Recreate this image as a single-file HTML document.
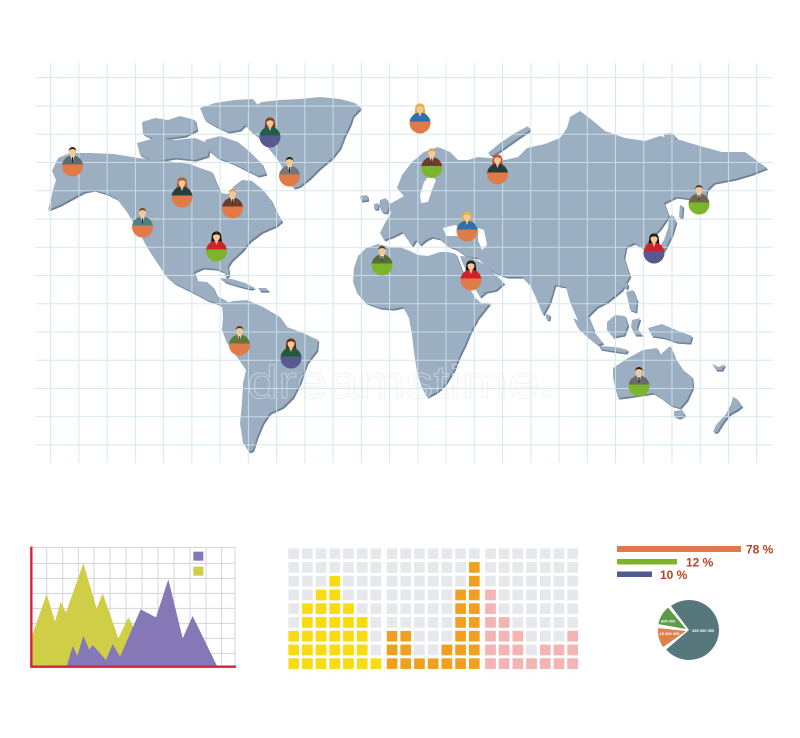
<!DOCTYPE html>
<html><head><meta charset="utf-8"><style>
html,body{margin:0;padding:0;background:#fff;width:800px;height:738px;overflow:hidden}
svg{display:block}
</style></head><body>
<svg width="800" height="738" viewBox="0 0 800 738" xmlns="http://www.w3.org/2000/svg">
<defs>
<clipPath id="ic"><circle cx="0" cy="0" r="10.5"/></clipPath>
<g id="land">
<path d="M48,210 L60,205 73,198 84,192 94,190 107,194 117,199 127,212 134,224 142,238 150,252 158,264 166,276 174,283 184,288 196,294 207,300 216,303 222,306 228,308 232,305 225,300 217,296 213,287 207,282 197,281 194,272 203,268 216,269 224,272 226,278 229,275 228,266 232,260 242,251 250,241 262,232 276,226 282,221 277,213 271,200 262,189 252,181 242,180 234,186 228,194 221,193 216,182 212,172 200,168 190,164 175,162 158,160 138,158 114,154 90,153 70,153 58,158 52,171 56,180 53,190 50,203Z"/>
<path d="M200,108 L215,103 235,100 253,99 258,106 256,116 248,122 240,130 228,132 215,126 205,120Z"/>
<path d="M205,140 L220,136 238,142 250,152 262,164 266,174 258,176 246,170 232,163 218,158 208,150Z"/>
<path d="M142,122 L155,118 168,120 180,116 195,120 197,130 185,136 170,138 155,140 143,134Z"/>
<path d="M137,143 L155,138 175,140 195,138 210,144 208,156 195,160 175,158 155,161 140,155Z"/>
<path d="M243,118 L250,108 262,102 280,100 300,99 320,97 340,99 355,103 361,108 353,116 350,125 345,135 340,148 332,158 320,168 310,178 300,186 294,188 288,182 284,170 278,160 270,150 262,140 252,132 245,125Z"/>
<path d="M220,278 L232,279 245,283 255,288 250,289 238,286 225,282Z"/>
<path d="M258,288 L266,288 269,291 260,291Z"/>
<path d="M222,305 L233,301 247,300 263,307 280,317 287,327 303,333 318,340 317,350 307,363 300,383 293,397 283,407 270,413 263,423 257,437 253,450 249,452 243,443 240,423 242,403 243,383 246,370 237,357 227,343 222,330 223,317Z"/>
<path d="M397,188 L402,175 412,162 424,152 438,147 450,152 458,160 468,160 478,157 490,158 505,160 518,157 527,148 545,144 560,138 567,128 570,117 580,111 592,120 605,131 625,138 645,141 660,136 680,140 700,146 722,152 745,152 767,168 752,174 735,179 714,183 707,190 704,212 698,206 692,199 676,197 664,203 669,216 660,229 652,237 643,248 634,243 626,247 624,258 630,276 622,290 607,302 597,307 588,316 594,330 589,337 582,330 576,316 570,302 566,287 555,285 550,302 543,315 536,298 530,285 522,277 507,277 498,274 487,268 478,258 466,256 456,249 448,246 440,239 432,237 426,240 420,245 416,240 412,246 408,240 402,232 394,236 384,240 380,233 385,223 391,213 388,205 397,200 404,196Z"/>
<path d="M378,244 L366,248 358,256 354,268 353,282 357,293 366,303 380,308 393,309 403,307 409,318 412,335 414,352 417,372 422,388 427,397 437,392 446,383 454,370 460,355 465,345 470,333 478,318 490,303 481,303 474,297 469,288 464,275 459,262 456,254 448,252 440,252 428,256 418,255 410,251 400,247 390,247Z"/>
<path d="M460,256 L470,257 480,262 488,268 497,276 504,283 496,290 486,292 480,297 474,287 468,274 462,262Z"/>
<path d="M380,200 L386,198 389,205 387,213 382,212 379,206Z"/>
<path d="M374,204 L378,203 378,209 374,209Z"/>
<path d="M360,196 L367,195 368,200 361,201Z"/>
<path d="M488,153 L500,143 515,133 528,126 530,130 518,138 504,148 492,156Z"/>
<path d="M663,134 L672,133 677,138 668,142Z"/>
<path d="M672,214 L676,222 672,235 666,247 660,256 655,258 657,250 664,240 668,228 669,218Z"/>
<path d="M680,205 L683,206 682,218 679,217Z"/>
<path d="M573,318 L583,323 595,333 603,343 598,345 588,337 578,328Z"/>
<path d="M600,346 L615,347 628,350 626,353 612,351 600,349Z"/>
<path d="M607,322 L615,315 625,316 628,325 624,335 613,337 607,330Z"/>
<path d="M632,320 L640,318 637,328 642,335 635,335 631,327Z"/>
<path d="M626,292 L633,290 637,300 636,312 630,310 628,300Z"/>
<path d="M625,282 L628,284 627,289 624,287Z"/>
<path d="M546,314 L550,315 549,320 546,319Z"/>
<path d="M648,328 L662,324 676,330 692,336 690,343 676,342 665,338 652,336Z"/>
<path d="M613,368 L628,358 643,350 657,348 660,355 670,346 675,358 683,370 692,377 693,387 687,400 680,408 670,405 660,397 653,393 640,395 627,397 618,398 615,387 613,377Z"/>
<path d="M674,411 L682,410 685,415 679,418 674,416Z"/>
<path d="M713,432 L716,425 726,414 731,404 733,397 737,399 742,406 737,410 731,413 724,421 717,432Z"/>
<path d="M712,364 L719,367 725,364 722,370 716,370Z"/>
</g>
<pattern id="g1" x="288.3" y="548.3" width="13.7" height="13.75" patternUnits="userSpaceOnUse"><rect width="10.7" height="10.7" fill="#e6e8ec"/></pattern>
<pattern id="g2" x="386.7" y="548.3" width="13.7" height="13.75" patternUnits="userSpaceOnUse"><rect width="10.7" height="10.7" fill="#e6e8ec"/></pattern>
<pattern id="g3" x="485.1" y="548.3" width="13.7" height="13.75" patternUnits="userSpaceOnUse"><rect width="10.7" height="10.7" fill="#e6e8ec"/></pattern>
<pattern id="py" x="288.3" y="548.3" width="13.7" height="13.75" patternUnits="userSpaceOnUse"><rect width="10.7" height="10.7" fill="#f8dc10"/></pattern>
<pattern id="po" x="386.7" y="548.3" width="13.7" height="13.75" patternUnits="userSpaceOnUse"><rect width="10.7" height="10.7" fill="#f0a020"/></pattern>
<pattern id="pp" x="485.1" y="548.3" width="13.7" height="13.75" patternUnits="userSpaceOnUse"><rect width="10.7" height="10.7" fill="#f4b4b4"/></pattern>
</defs>

<!-- map -->
<use href="#land" fill="#6f8296" transform="translate(1.3,1.6)"/>
<use href="#land" fill="#9cafc2"/>
<g fill="#fff">
<path d="M420,195 L424,182 430,175 436,180 432,190 428,202 421,203Z"/>
<path d="M443,228 L455,225 463,229 458,236 446,236Z"/>
<path d="M478,228 L484,230 487,245 482,250 478,240Z"/>
</g>

<text x="247" y="398" font-family="Liberation Sans, sans-serif" font-size="46" textLength="292" lengthAdjust="spacingAndGlyphs" fill="none" stroke="#e4e8ec" stroke-width="0.9" opacity="0.55">dreamstime</text>
<circle cx="547" cy="394" r="3.5" fill="none" stroke="#e4e8ec" stroke-width="0.9" opacity="0.55"/>

<g stroke="#cfe6ea" stroke-width="1" opacity="0.85" fill="none">
<path d="M50.7 63V463M78.94 63V463M107.18 63V463M135.42 63V463M163.66 63V463M191.9 63V463M220.14 63V463M248.38 63V463M276.62 63V463M304.86 63V463M333.1 63V463M361.34 63V463M389.58 63V463M417.82 63V463M446.06 63V463M474.3 63V463M502.54 63V463M530.78 63V463M559.02 63V463M587.26 63V463M615.5 63V463M643.74 63V463M671.98 63V463M700.22 63V463M728.46 63V463M756.7 63V463"/>
<path d="M36 77.7H773M36 105.95H773M36 134.2H773M36 162.45H773M36 190.7H773M36 218.95H773M36 247.2H773M36 275.45H773M36 303.7H773M36 331.95H773M36 360.2H773M36 388.45H773M36 416.7H773M36 444.95H773"/>
</g>

<!-- people icons -->
<g transform="translate(72.5,166)"><g clip-path="url(#ic)"><rect x="-11" y="-10.5" width="22" height="9" fill="#5f6b6e"/><rect x="-11" y="-1.5" width="22" height="13" fill="#e07b48"/></g><path d="M-2.2 -10.5L2.2 -10.5 0 -4Z" fill="#fff"/><path d="M-0.7 -9L0.7 -9 0.5 -4 0 -3 -0.5 -4Z" fill="#222"/><rect x="-1.6" y="-11.5" width="3.2" height="2" fill="#e8b584"/><ellipse cx="0" cy="-14.5" rx="3.6" ry="4.6" fill="#f5c996"/><path d="M-3.8 -14.5C-4.2 -20.5 4.2 -20.5 3.8 -14.5L3.2 -16C1 -17.2 -1 -17.2 -3.2 -16Z" fill="#2a2a2a"/></g>

<g transform="translate(182,197)"><path d="M-4.8 -14C-5 -21.5 5 -21.5 4.8 -14L5.4 -9L-5.4 -9Z" fill="#b5562a"/><g clip-path="url(#ic)"><rect x="-11" y="-10.5" width="22" height="9" fill="#24403c"/><rect x="-11" y="-1.5" width="22" height="13" fill="#e07b48"/></g><path d="M-1.8 -10.5L1.8 -10.5 0 -6Z" fill="#f5c996"/><rect x="-1.5" y="-11.5" width="3" height="2" fill="#e8b584"/><ellipse cx="0" cy="-14.5" rx="3.5" ry="4.5" fill="#f5c996"/><path d="M-3.7 -15C-3.5 -20 3.5 -20 3.7 -15C2 -17 -1 -17.5 -3.7 -15Z" fill="#b5562a"/></g>

<g transform="translate(232.5,208)"><g clip-path="url(#ic)"><rect x="-11" y="-10.5" width="22" height="9" fill="#6b3d2a"/><rect x="-11" y="-1.5" width="22" height="13" fill="#e07b48"/></g><path d="M-2.2 -10.5L2.2 -10.5 0 -4Z" fill="#fff"/><path d="M-0.7 -9L0.7 -9 0.5 -4 0 -3 -0.5 -4Z" fill="#333"/><rect x="-1.6" y="-11.5" width="3.2" height="2" fill="#e8b584"/><ellipse cx="0" cy="-14.5" rx="3.6" ry="4.6" fill="#f5c996"/><path d="M-3.8 -14.5C-4.2 -20.5 4.2 -20.5 3.8 -14.5L3.2 -16C1 -17.2 -1 -17.2 -3.2 -16Z" fill="#d4a04a"/></g>

<g transform="translate(142.5,227)"><g clip-path="url(#ic)"><rect x="-11" y="-10.5" width="22" height="9" fill="#4f7f80"/><rect x="-11" y="-1.5" width="22" height="13" fill="#e07b48"/></g><path d="M-2.2 -10.5L2.2 -10.5 0 -4Z" fill="#fff"/><path d="M-0.7 -9L0.7 -9 0.5 -4 0 -3 -0.5 -4Z" fill="#333"/><rect x="-1.6" y="-11.5" width="3.2" height="2" fill="#e8b584"/><ellipse cx="0" cy="-14.5" rx="3.6" ry="4.6" fill="#f5c996"/><path d="M-3.8 -14.5C-4.2 -20.5 4.2 -20.5 3.8 -14.5L3.2 -16C1 -17.2 -1 -17.2 -3.2 -16Z" fill="#6b4a2a"/></g>

<g transform="translate(216.5,251)"><path d="M-4.8 -14C-5 -21.5 5 -21.5 4.8 -14L5.4 -9L-5.4 -9Z" fill="#151515"/><g clip-path="url(#ic)"><rect x="-11" y="-10.5" width="22" height="9" fill="#d0202a"/><rect x="-11" y="-1.5" width="22" height="13" fill="#7cb52b"/></g><path d="M-1.8 -10.5L1.8 -10.5 0 -6Z" fill="#f5c996"/><rect x="-1.5" y="-11.5" width="3" height="2" fill="#e8b584"/><ellipse cx="0" cy="-14.5" rx="3.5" ry="4.5" fill="#f5c996"/><path d="M-3.7 -15C-3.5 -20 3.5 -20 3.7 -15C2 -17 -1 -17.5 -3.7 -15Z" fill="#151515"/></g>

<g transform="translate(270,137)"><path d="M-4.8 -14C-5 -21.5 5 -21.5 4.8 -14L5.4 -9L-5.4 -9Z" fill="#7a3a20"/><g clip-path="url(#ic)"><rect x="-11" y="-10.5" width="22" height="9" fill="#1f5e4a"/><rect x="-11" y="-1.5" width="22" height="13" fill="#565a8e"/></g><path d="M-1.8 -10.5L1.8 -10.5 0 -6Z" fill="#f5c996"/><rect x="-1.5" y="-11.5" width="3" height="2" fill="#e8b584"/><ellipse cx="0" cy="-14.5" rx="3.5" ry="4.5" fill="#f5c996"/><path d="M-3.7 -15C-3.5 -20 3.5 -20 3.7 -15C2 -17 -1 -17.5 -3.7 -15Z" fill="#7a3a20"/></g>

<g transform="translate(289.5,176)"><g clip-path="url(#ic)"><rect x="-11" y="-10.5" width="22" height="9" fill="#777"/><rect x="-11" y="-1.5" width="22" height="13" fill="#e07b48"/></g><path d="M-2.2 -10.5L2.2 -10.5 0 -4Z" fill="#fff"/><path d="M-0.7 -9L0.7 -9 0.5 -4 0 -3 -0.5 -4Z" fill="#222"/><rect x="-1.6" y="-11.5" width="3.2" height="2" fill="#e8b584"/><ellipse cx="0" cy="-14.5" rx="3.6" ry="4.6" fill="#f5c996"/><path d="M-3.8 -14.5C-4.2 -20.5 4.2 -20.5 3.8 -14.5L3.2 -16C1 -17.2 -1 -17.2 -3.2 -16Z" fill="#1e1e1e"/></g>

<g transform="translate(239.5,345)"><g clip-path="url(#ic)"><rect x="-11" y="-10.5" width="22" height="9" fill="#5a7a3a"/><rect x="-11" y="-1.5" width="22" height="13" fill="#e07b48"/></g><path d="M-2.2 -10.5L2.2 -10.5 0 -4Z" fill="#fff"/><path d="M-0.7 -9L0.7 -9 0.5 -4 0 -3 -0.5 -4Z" fill="#c03030"/><rect x="-1.6" y="-11.5" width="3.2" height="2" fill="#e8b584"/><ellipse cx="0" cy="-14.5" rx="3.6" ry="4.6" fill="#f5c996"/><path d="M-3.8 -14.5C-4.2 -20.5 4.2 -20.5 3.8 -14.5L3.2 -16C1 -17.2 -1 -17.2 -3.2 -16Z" fill="#5a3a22"/></g>

<g transform="translate(291,358)"><path d="M-4.8 -14C-5 -21.5 5 -21.5 4.8 -14L5.4 -9L-5.4 -9Z" fill="#6a2a1a"/><g clip-path="url(#ic)"><rect x="-11" y="-10.5" width="22" height="9" fill="#1f5a3a"/><rect x="-11" y="-1.5" width="22" height="13" fill="#565a8e"/></g><path d="M-1.8 -10.5L1.8 -10.5 0 -6Z" fill="#f5c996"/><rect x="-1.5" y="-11.5" width="3" height="2" fill="#e8b584"/><ellipse cx="0" cy="-14.5" rx="3.5" ry="4.5" fill="#f5c996"/><path d="M-3.7 -15C-3.5 -20 3.5 -20 3.7 -15C2 -17 -1 -17.5 -3.7 -15Z" fill="#6a2a1a"/></g>

<g transform="translate(420,123)"><path d="M-4.8 -14C-5 -21.5 5 -21.5 4.8 -14L5.4 -9L-5.4 -9Z" fill="#e0b040"/><g clip-path="url(#ic)"><rect x="-11" y="-10.5" width="22" height="9" fill="#2f6fb0"/><rect x="-11" y="-1.5" width="22" height="13" fill="#e07b48"/></g><path d="M-1.8 -10.5L1.8 -10.5 0 -6Z" fill="#f5c996"/><rect x="-1.5" y="-11.5" width="3" height="2" fill="#e8b584"/><ellipse cx="0" cy="-14.5" rx="3.5" ry="4.5" fill="#f5c996"/><path d="M-3.7 -15C-3.5 -20 3.5 -20 3.7 -15C2 -17 -1 -17.5 -3.7 -15Z" fill="#e0b040"/></g>

<g transform="translate(431.7,167.5)"><g clip-path="url(#ic)"><rect x="-11" y="-10.5" width="22" height="9" fill="#6b3d2a"/><rect x="-11" y="-1.5" width="22" height="13" fill="#7cb52b"/></g><path d="M-2.2 -10.5L2.2 -10.5 0 -4Z" fill="#fff"/><path d="M-0.7 -9L0.7 -9 0.5 -4 0 -3 -0.5 -4Z" fill="#333"/><rect x="-1.6" y="-11.5" width="3.2" height="2" fill="#e8b584"/><ellipse cx="0" cy="-14.5" rx="3.6" ry="4.6" fill="#f5c996"/><path d="M-3.8 -14.5C-4.2 -20.5 4.2 -20.5 3.8 -14.5L3.2 -16C1 -17.2 -1 -17.2 -3.2 -16Z" fill="#d4a04a"/></g>

<g transform="translate(497.5,174)"><path d="M-4.8 -14C-5 -21.5 5 -21.5 4.8 -14L5.4 -9L-5.4 -9Z" fill="#c0502a"/><g clip-path="url(#ic)"><rect x="-11" y="-10.5" width="22" height="9" fill="#2b3b3b"/><rect x="-11" y="-1.5" width="22" height="13" fill="#e07b48"/></g><path d="M-1.8 -10.5L1.8 -10.5 0 -6Z" fill="#f5c996"/><rect x="-1.5" y="-11.5" width="3" height="2" fill="#e8b584"/><ellipse cx="0" cy="-14.5" rx="3.5" ry="4.5" fill="#f5c996"/><path d="M-3.7 -15C-3.5 -20 3.5 -20 3.7 -15C2 -17 -1 -17.5 -3.7 -15Z" fill="#c0502a"/></g>

<g transform="translate(382,265)"><g clip-path="url(#ic)"><rect x="-11" y="-10.5" width="22" height="9" fill="#5a6a3a"/><rect x="-11" y="-1.5" width="22" height="13" fill="#7cb52b"/></g><path d="M-2.2 -10.5L2.2 -10.5 0 -4Z" fill="#fff"/><path d="M-0.7 -9L0.7 -9 0.5 -4 0 -3 -0.5 -4Z" fill="#333"/><rect x="-1.6" y="-11.5" width="3.2" height="2" fill="#e8b584"/><ellipse cx="0" cy="-14.5" rx="3.6" ry="4.6" fill="#f5c996"/><path d="M-3.8 -14.5C-4.2 -20.5 4.2 -20.5 3.8 -14.5L3.2 -16C1 -17.2 -1 -17.2 -3.2 -16Z" fill="#5a3a20"/></g>

<g transform="translate(467,231)"><path d="M-4.8 -14C-5 -21.5 5 -21.5 4.8 -14L5.4 -9L-5.4 -9Z" fill="#e0b040"/><g clip-path="url(#ic)"><rect x="-11" y="-10.5" width="22" height="9" fill="#2f6fb0"/><rect x="-11" y="-1.5" width="22" height="13" fill="#e07b48"/></g><path d="M-1.8 -10.5L1.8 -10.5 0 -6Z" fill="#f5c996"/><rect x="-1.5" y="-11.5" width="3" height="2" fill="#e8b584"/><ellipse cx="0" cy="-14.5" rx="3.5" ry="4.5" fill="#f5c996"/><path d="M-3.7 -15C-3.5 -20 3.5 -20 3.7 -15C2 -17 -1 -17.5 -3.7 -15Z" fill="#e0b040"/></g>

<g transform="translate(471,280)"><path d="M-4.8 -14C-5 -21.5 5 -21.5 4.8 -14L5.4 -9L-5.4 -9Z" fill="#151515"/><g clip-path="url(#ic)"><rect x="-11" y="-10.5" width="22" height="9" fill="#d0202a"/><rect x="-11" y="-1.5" width="22" height="13" fill="#e07b48"/></g><path d="M-1.8 -10.5L1.8 -10.5 0 -6Z" fill="#f5c996"/><rect x="-1.5" y="-11.5" width="3" height="2" fill="#e8b584"/><ellipse cx="0" cy="-14.5" rx="3.5" ry="4.5" fill="#f5c996"/><path d="M-3.7 -15C-3.5 -20 3.5 -20 3.7 -15C2 -17 -1 -17.5 -3.7 -15Z" fill="#151515"/></g>

<g transform="translate(654,253)"><path d="M-4.8 -14C-5 -21.5 5 -21.5 4.8 -14L5.4 -9L-5.4 -9Z" fill="#151515"/><g clip-path="url(#ic)"><rect x="-11" y="-10.5" width="22" height="9" fill="#d0202a"/><rect x="-11" y="-1.5" width="22" height="13" fill="#565a8e"/></g><path d="M-1.8 -10.5L1.8 -10.5 0 -6Z" fill="#f5c996"/><rect x="-1.5" y="-11.5" width="3" height="2" fill="#e8b584"/><ellipse cx="0" cy="-14.5" rx="3.5" ry="4.5" fill="#f5c996"/><path d="M-3.7 -15C-3.5 -20 3.5 -20 3.7 -15C2 -17 -1 -17.5 -3.7 -15Z" fill="#151515"/></g>

<g transform="translate(699,204)"><g clip-path="url(#ic)"><rect x="-11" y="-10.5" width="22" height="9" fill="#6a6a4a"/><rect x="-11" y="-1.5" width="22" height="13" fill="#7cb52b"/></g><path d="M-2.2 -10.5L2.2 -10.5 0 -4Z" fill="#fff"/><path d="M-0.7 -9L0.7 -9 0.5 -4 0 -3 -0.5 -4Z" fill="#333"/><rect x="-1.6" y="-11.5" width="3.2" height="2" fill="#e8b584"/><ellipse cx="0" cy="-14.5" rx="3.6" ry="4.6" fill="#f5c996"/><path d="M-3.8 -14.5C-4.2 -20.5 4.2 -20.5 3.8 -14.5L3.2 -16C1 -17.2 -1 -17.2 -3.2 -16Z" fill="#5a3a20"/></g>

<g transform="translate(639,386)"><g clip-path="url(#ic)"><rect x="-11" y="-10.5" width="22" height="9" fill="#6a6a6a"/><rect x="-11" y="-1.5" width="22" height="13" fill="#7cb52b"/></g><path d="M-2.2 -10.5L2.2 -10.5 0 -4Z" fill="#fff"/><path d="M-0.7 -9L0.7 -9 0.5 -4 0 -3 -0.5 -4Z" fill="#222"/><rect x="-1.6" y="-11.5" width="3.2" height="2" fill="#e8b584"/><ellipse cx="0" cy="-14.5" rx="3.6" ry="4.6" fill="#f5c996"/><path d="M-3.8 -14.5C-4.2 -20.5 4.2 -20.5 3.8 -14.5L3.2 -16C1 -17.2 -1 -17.2 -3.2 -16Z" fill="#1e1e1e"/></g>

<!-- area chart -->
<g transform="translate(20,530) scale(0.33333)">
<g stroke="#d4d4d4" stroke-width="3" fill="none">
<path d="M80 52V410M128 52V410M175 52V410M222 52V410M270 52V410M318 52V410M366 52V410M414 52V410M462 52V410M510 52V410M558 52V410M605 52V410M645 52V410"/>
<path d="M33 52H645M33 100H645M33 145H645M33 190H645M33 235H645M33 280H645M33 325H645M33 370H645"/>
</g>
<polygon points="35,410 35,320 80,192 105,275 122,215 138,248 190,100 230,235 248,190 295,325 325,262 345,300 345,410" fill="#d0ce46"/>
<polygon points="140,410 158,348 172,378 190,318 208,360 218,345 258,390 278,342 300,380 362,238 408,262 445,148 488,325 518,258 592,410" fill="#8478b6"/>
<rect x="520" y="65" width="30" height="27" fill="#8478b6"/>
<rect x="520" y="110" width="30" height="27" fill="#d0ce46"/>
<path d="M34 50V413M31 410H648" stroke="#d61f3c" stroke-width="7" fill="none"/>
</g>

<!-- square bar chart -->
<rect x="288.3" y="548.3" width="95.9" height="123.75" fill="url(#g1)"/>
<rect x="386.7" y="548.3" width="95.9" height="123.75" fill="url(#g2)"/>
<rect x="485.1" y="548.3" width="95.9" height="123.75" fill="url(#g3)"/>
<g>
<rect x="288.3" y="630.8" width="13.7" height="41.25" fill="url(#py)"/>
<rect x="302" y="603.3" width="13.7" height="68.75" fill="url(#py)"/>
<rect x="315.7" y="589.55" width="13.7" height="82.5" fill="url(#py)"/>
<rect x="329.4" y="575.8" width="13.7" height="96.25" fill="url(#py)"/>
<rect x="343.1" y="603.3" width="13.7" height="68.75" fill="url(#py)"/>
<rect x="356.8" y="617.05" width="13.7" height="55" fill="url(#py)"/>
<rect x="370.5" y="658.3" width="13.7" height="13.75" fill="url(#py)"/>
<rect x="386.7" y="630.8" width="13.7" height="41.25" fill="url(#po)"/>
<rect x="400.4" y="630.8" width="13.7" height="41.25" fill="url(#po)"/>
<rect x="414.1" y="658.3" width="13.7" height="13.75" fill="url(#po)"/>
<rect x="427.8" y="658.3" width="13.7" height="13.75" fill="url(#po)"/>
<rect x="441.5" y="644.55" width="13.7" height="27.5" fill="url(#po)"/>
<rect x="455.2" y="589.55" width="13.7" height="82.5" fill="url(#po)"/>
<rect x="468.9" y="562.05" width="13.7" height="110" fill="url(#po)"/>
<rect x="485.1" y="589.55" width="13.7" height="82.5" fill="url(#pp)"/>
<rect x="498.8" y="617.05" width="13.7" height="55" fill="url(#pp)"/>
<rect x="512.5" y="630.8" width="13.7" height="41.25" fill="url(#pp)"/>
<rect x="526.2" y="658.3" width="13.7" height="13.75" fill="url(#pp)"/>
<rect x="539.9" y="644.55" width="13.7" height="27.5" fill="url(#pp)"/>
<rect x="553.6" y="644.55" width="13.7" height="27.5" fill="url(#pp)"/>
<rect x="567.3" y="630.8" width="13.7" height="41.25" fill="url(#pp)"/>
</g>

<!-- percent bars -->
<rect x="617" y="546" width="124" height="6" fill="#e07b48"/>
<rect x="617" y="559" width="60" height="5.5" fill="#7cb52b"/>
<rect x="617" y="571.5" width="35" height="5.5" fill="#4f5a90"/>
<g font-family="Liberation Sans, sans-serif" font-weight="bold" font-size="12" fill="#b5461e">
<text x="746" y="553.5">78 %</text>
<text x="686" y="566.5">12 %</text>
<text x="660" y="579">10 %</text>
</g>

<!-- pie -->
<path d="M689,630 L670.95,606.04 A30,30 0 1 1 666.19,649.48 Z" fill="#56787c"/>
<path d="M686,629 L658.4,624.1 A28,28 0 0 1 668,607.6 Z" fill="#5f9a4a"/>
<path d="M686,631 L663.1,647.1 A28,28 0 0 1 658.2,628.1 Z" fill="#e0804a"/>
<g font-family="Liberation Sans, sans-serif" font-size="4" font-weight="bold" fill="#fff">
<text x="692" y="632">335 000 000</text>
<text x="661" y="622.5">600 000</text>
<text x="659.5" y="635">15 000 000</text>
</g>
</svg>
</body></html>
